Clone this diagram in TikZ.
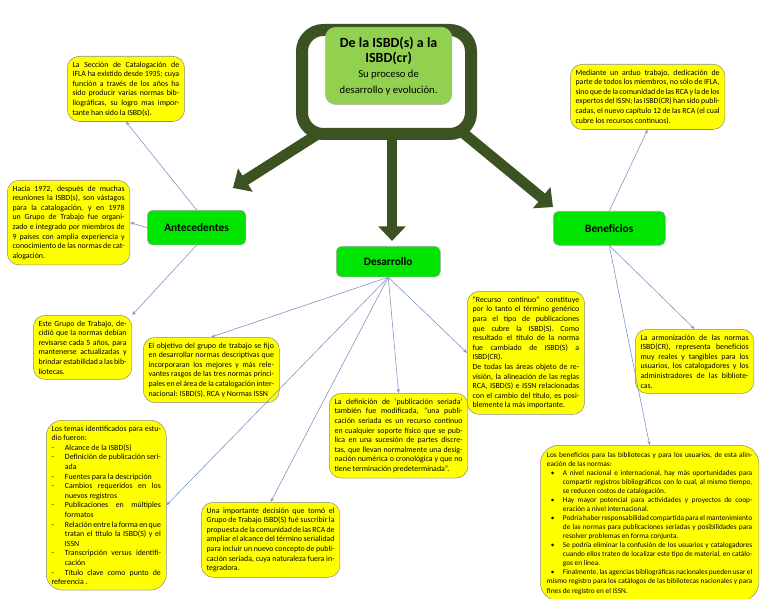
\documentclass[tikz,border=0pt]{standalone}
\usepackage{fontspec}
\setmainfont{Carlito}
\usetikzlibrary{arrows.meta}
\definecolor{dg}{HTML}{3B5320}
\definecolor{ybox}{HTML}{FFFF00}
\definecolor{ln}{HTML}{7F95C8}
\definecolor{tg}{HTML}{92D050}
\newcommand\dit[1]{\par\hangindent=10pt\hangafter=1\noindent\makebox[10pt][l]{-}#1}
\newcommand\bit[1]{\par\hangindent=12pt\hangafter=1\noindent\makebox[12pt][l]{\hspace{3pt}\textbullet}#1}
\begin{document}
\begin{tikzpicture}[x=0.75pt,y=-0.75pt,
  ybx/.style={draw=black!45,fill=ybox,rounded corners=9pt,anchor=north west,inner sep=4pt,
     align=justify,font=\fontsize{5.9}{7.2}\selectfont},
  gbx/.style={draw=black!35,fill=green!90!black,rounded corners=4pt,font=\bfseries\fontsize{8.5}{10}\selectfont,
     anchor=north west},
  conn/.style={draw=ln,line width=0.45pt,-{Stealth[length=3pt,width=2.5pt]}},
  bigarrow/.style={draw=dg,line width=8pt,-{Triangle[length=11pt,width=20pt]}}]
\useasboundingbox (0,0) rectangle (768,599);
% title frame
\draw[dg,line width=9pt,rounded corners=16pt] (302,30) rectangle (471,134);
\node[draw=black!30,fill=tg,rounded corners=8pt,minimum width=95pt,minimum height=58pt,anchor=north west,align=center,inner sep=1pt,font=\fontsize{10.5}{11.5}\selectfont] (title) at (325,27)
 {\textbf{De la ISBD(s) a la}\\ \textbf{ISBD(cr)}\\ \fontsize{8}{10}\selectfont Su proceso de\\ \fontsize{8}{10}\selectfont desarrollo y evolución.};
\coordinate (fl) at (318,134);
\coordinate (fc) at (392,139);
\coordinate (fr) at (462,132);
% green nodes
\node[gbx,minimum width=74pt,minimum height=26pt] (ant) at (147,210) {Antecedentes};
\node[gbx,minimum width=78pt,minimum height=23pt] (des) at (336,246) {Desarrollo};
\node[gbx,minimum width=84pt,minimum height=25.5pt] (ben) at (553,211) {Beneficios};
\draw[bigarrow] (fl) -- (233,188);
\draw[bigarrow] (fc) -- (392,241);
\draw[bigarrow] (fr) -- (553,207);
% yellow boxes
\node[ybx,text width=80pt] (b1) at (67,56) {La Sección de Catalogación de IFLA ha existido desde 1935; cuya función a través de los años ha sido producir varias normas bibliográficas, su logro mas importante han sido la ISBD(s).};
\node[ybx,text width=84pt] (b2) at (7,180) {Hacia 1972, después de muchas reuniones la ISBD(s), son vástagos para la catalogación, y en 1978 un Grupo de Trabajo fue organizado e integrado por miembros de 9 países con amplia experiencia y conocimiento de las normas de catalogación.};
\node[ybx,text width=66pt] (b3) at (33,315) {Este Grupo de Trabajo, decidió que la normas debían revisarse cada 5 años, para mantenerse actualizadas y brindar estabilidad a las bibliotecas.};
\node[ybx,text width=94pt] (b4) at (143,337) {El objetivo del grupo de trabajo se fijo en desarrollar normas descriptivas que incorporaran los mejores y más relevantes rasgos de las tres normas principales en el área de la catalogación internacional: ISBD(S), RCA y Normas ISSN};
\node[ybx,text width=82pt,minimum height=118pt,rounded corners=12pt] (b5) at (46,420) {Los temas identificados para estudio fueron:
 \dit{Alcance de la ISBD(S)}\dit{Definición de publicación seriada}\dit{Fuentes para la descripción}\dit{Cambios requeridos en los nuevos registros}\dit{Publicaciones en múltiples formatos}\dit{Relación entre la forma en que tratan el título la ISBD(S) y el ISSN}\dit{Transcripción versus identificación}\dit{Título clave como punto de referencia .}};
\node[ybx,text width=96pt] (b6) at (201,502) {Una importante decisión que tomó el Grupo de Trabajo ISBD(S) fué suscribir la propuesta de la comunidad de las RCA de ampliar el alcance del término serialidad para incluir un nuevo concepto de publicación seriada, cuya naturaleza fuera integradora.};
\node[ybx,text width=96pt] (b7) at (329,393) {La definición de ‘publicación seriada’ también fue modificada, “una publicación seriada es un recurso continuo en cualquier soporte físico que se publica en una sucesión de partes discretas, que llevan normalmente una designación numérica o cronológica y que no tiene terminación predeterminada”.};
\node[ybx,text width=80pt] (b8) at (467,291) {“Recurso continuo” constituye por lo tanto el término genérico para el tipo de publicaciones que cubre la ISBD(S). Como resultado el título de la norma fue cambiado de ISBD(S) a ISBD(CR).\par De todas las áreas objeto de revisión, la alineación de las reglas RCA, ISBD(S) e ISSN relacionadas con el cambio del título, es posiblemente la más importante.};
\node[ybx,text width=108pt] (b9) at (570,64) {Mediante un arduo trabajo, dedicación de parte de todos los miembros, no sólo de IFLA, sino que de la comunidad de las RCA y la de los expertos del ISSN; las ISBD(CR) han sido publicadas, el nuevo capítulo 12 de las RCA (el cual cubre los recursos continuos).};
\node[ybx,text width=81pt] (b10) at (635,329) {La armonización de las normas ISBD(CR), representa beneficios muy reales y tangibles para los usuarios, los catalogadores y los administradores de las bibliotecas.};
\node[ybx,text width=154pt,rounded corners=14pt,inner sep=5pt,font=\fontsize{5.5}{6.8}\selectfont] (b11) at (540,445) {Los beneficios para las bibliotecas y para los usuarios, de esta alineación de las normas:
 \bit{A nivel nacional e internacional, hay más oportunidades para compartir registros bibliográficos con lo cual, al mismo tiempo, se reducen costos de catalogación.}\bit{Hay mayor potencial para actividades y proyectos de cooperación a nivel internacional.}\bit{Podría haber responsabilidad compartida para el mantenimiento de las normas para publicaciones seriadas y posibilidades para resolver problemas en forma conjunta.}\bit{Se podría eliminar la confusión de los usuarios y catalogadores cuando ellos traten de localizar este tipo de material, en catálogos en línea.}\bit{Finalmente, las agencias bibliográficas nacionales pueden usar el mismo registro para los catálogos de las bibliotecas nacionales y para fines de registro en el ISSN.}};
% thin connectors
\draw[conn] (ant.north) -- (b1.south);
\draw[conn] (ant.west) -- (b2.east);
\draw[conn] (ant.south) -- (b3.north east);
\draw[conn] (des.south) -- (b4.north);
\draw[conn] (des.south) -- (b5.east);
\draw[conn] (des.south) -- (b6.north);
\draw[conn] (des.south) -- (b7.north);
\draw[conn] (des.south) -- (b8.west);
\draw[conn] (ben.north) -- (b9.south);
\draw[conn] (ben.south) -- (b10.north);
\draw[conn] (ben.south) -- (b11.north);
\end{tikzpicture}
\end{document}
